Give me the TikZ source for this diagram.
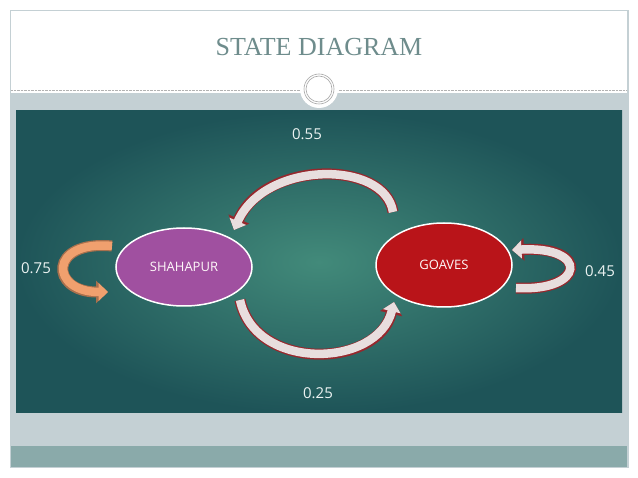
\documentclass[tikz,border=0pt]{standalone}
\usepackage{fontspec}
\setmainfont{Liberation Serif}
\newfontfamily\sansf{Open Sans}
\usetikzlibrary{arrows.meta,shapes.geometric}
\definecolor{teal1}{RGB}{66,138,122}
\definecolor{teal2}{RGB}{30,84,88}
\definecolor{frame}{RGB}{196,208,212}
\definecolor{barc}{RGB}{138,170,170}
\definecolor{titlec}{RGB}{110,140,140}
\definecolor{rim}{RGB}{150,40,45}
\definecolor{band}{RGB}{232,222,222}
\definecolor{peach}{RGB}{240,160,110}
\definecolor{pur}{RGB}{160,80,160}
\definecolor{red1}{RGB}{185,20,25}
\tikzset{
 state/.style={ellipse,draw=white,line width=1.5pt,minimum width=136pt,minimum height=78pt,text=white!90!pink,font=\sansf\fontsize{13}{15}\selectfont},
 lbl/.style={text=white!90!teal1,font=\sansf\fontsize{15}{17}\selectfont},
 bandout/.style={draw=rim,line width=11pt,-{Triangle[width=22pt,length=12pt]}},
 bandin/.style={draw=band,line width=8.5pt,-{Triangle[width=17.5pt,length=9.5pt]}},
 bandor/.style={draw=peach,line width=8.5pt,-{Triangle[width=17.5pt,length=9.5pt]}},
}
\begin{document}
\begin{tikzpicture}[x=1pt,y=-1pt]
\useasboundingbox (0,0) rectangle (638,478);
\fill[white] (0,0) rectangle (638,478);
\draw[frame,fill=frame] (10,10) rectangle (628,467);
\fill[white] (11,11) rectangle (627,93);
\draw[gray!60,densely dotted] (11,90) -- (627,90);
\fill[barc] (11,446) rectangle (627,467);
\shade[inner color=teal1,outer color=teal2] (16,111) rectangle (622,413);
\fill[white] (319,89) circle (19);
\draw[gray!70,line width=0.6pt] (319,89) circle (15);
\draw[gray!70,line width=0.6pt] (319,89) circle (13);
\node[text=titlec,font=\fontsize{26}{30}\selectfont] (title) at (319,47) {STATE DIAGRAM};
\node[state,fill=pur] (sh) at (184,267) {SHAHAPUR};
\node[state,fill=red1,minimum height=84pt] (go) at (444,265) {GOAVES};
\coordinate (t1) at (393,212);
\coordinate (t2) at (234,230);
\coordinate (b1) at (240,300);
\coordinate (b2) at (394,302);
\coordinate (l1) at (112,246);
\coordinate (l2) at (108,292);
\coordinate (r1) at (516,288);
\coordinate (r2) at (512,250);
\foreach \s in {bandout,bandin}{
 \draw[\s] (t1) .. controls (385,160) and (265,160) .. (t2);
 \draw[\s] (b1) .. controls (255,372) and (378,368) .. (b2);
 \draw[\s] (r1) .. controls (585,292) and (590,246) .. (r2);
}
\draw[bandout,draw=peach!70!black] (l1) .. controls (48,240) and (50,292) .. (l2);
\draw[bandor] (l1) .. controls (48,240) and (50,292) .. (l2);
\node[lbl] (p55) at (307,134) {0.55};
\node[lbl] (p25) at (318,393) {0.25};
\node[lbl] (p75) at (36,268) {0.75};
\node[lbl] (p45) at (600,271) {0.45};
\end{tikzpicture}
\end{document}
